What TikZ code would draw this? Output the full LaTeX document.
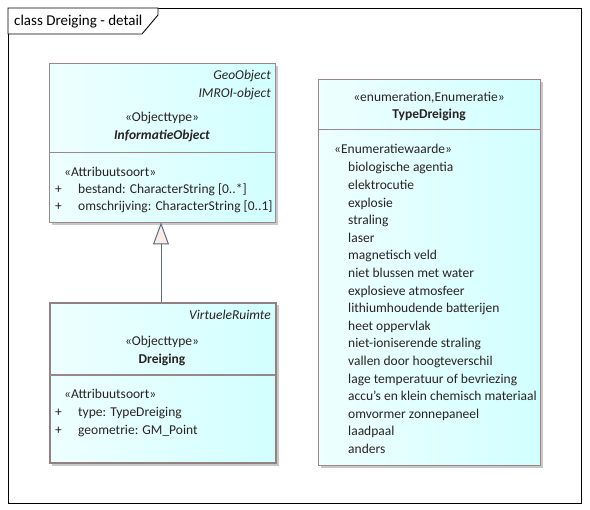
\documentclass[tikz,border=0pt]{standalone}
\usepackage{fontspec}
\setmainfont{Carlito}
\usetikzlibrary{arrows.meta}
\definecolor{boxline}{HTML}{9A8888}
\definecolor{boxfillL}{HTML}{EEFFFF}
\definecolor{boxfillR}{HTML}{D2FFFF}
\definecolor{txt}{HTML}{2A2222}
\definecolor{connline}{HTML}{5F6B80}
\definecolor{trifill}{HTML}{FBEDE6}
\definecolor{shadowc}{HTML}{C8C8C8}
\tikzset{
  x=1pt, y=-1pt,
  umlbox/.style={draw=boxline, line width=1pt, left color=boxfillL, right color=boxfillR, rectangle, anchor=north west, inner sep=0pt},
  tl/.style={anchor=base west, inner sep=0pt, text=txt, font=\fontsize{13.5}{15}\selectfont},
  tr/.style={anchor=base east, inner sep=0pt, text=txt, font=\fontsize{13.5}{15}\selectfont\itshape},
  tc/.style={anchor=base, inner sep=0pt, text=txt, font=\fontsize{13.5}{15}\selectfont},
  divider/.style={draw=boxline, line width=1pt},
}
\begin{document}
\begin{tikzpicture}
\useasboundingbox (0,0) rectangle (590,510);
\fill[white] (0,0) rectangle (590,510);
% frame
\draw[black, line width=0.9pt] (8,8) rectangle (581,503);
\draw[black, line width=0.9pt, fill=white] (8,8) -- (158,8) -- (158,15) -- (142,34) -- (8,34) -- cycle;
\node[anchor=base west, inner sep=0pt, font=\fontsize{15}{17}\selectfont] (title) at (14,26) {class Dreiging - detail};

% InformatieObject
\fill[shadowc] (52,66) rectangle (278,225);
\node[umlbox, minimum width=226pt, minimum height=159pt] (info) at (49,63) {};
\draw[divider] (49,153) -- (275,153);
\node[tr] (geo) at (271,80) {GeoObject};
\node[tr] (imroi) at (271,98) {IMROI-object};
\node[tc] (st1) at (162,122) {«Objecttype»};
\node[tc, font=\fontsize{13.5}{15}\selectfont\bfseries\itshape] (n1) at (162,140) {InformatieObject};
\node[tl] (a1) at (64,177) {«Attribuutsoort»};
\node[tl] (p1) at (55,194) {+};
\node[tl] (a2) at (78,194) {bestand: CharacterString [0..*]};
\node[tl] (p2) at (55,211) {+};
\node[tl] (a3) at (78,211) {omschrijving: CharacterString [0..1]};

% Dreiging
\fill[shadowc] (52,305) rectangle (279,466);
\node[umlbox, line width=2.4pt, draw=boxline!95!black, minimum width=226pt, minimum height=160pt] (dreig) at (49,302) {};
\draw[divider, line width=2pt] (49,375) -- (275,375);
\node[tr] (vr) at (271,320) {VirtueleRuimte};
\node[tc] (st2) at (162,346) {«Objecttype»};
\node[tc, font=\fontsize{13.5}{15}\selectfont\bfseries] (n2) at (162,364) {Dreiging};
\node[tl] (b1) at (64,399) {«Attribuutsoort»};
\node[tl] (q1) at (55,417) {+};
\node[tl] (b2) at (78,417) {type: TypeDreiging};
\node[tl] (q2) at (55,435) {+};
\node[tl] (b3) at (78,435) {geometrie: GM\_Point};

% generalization
\draw[connline, line width=1pt, -{Triangle[length=22pt, width=16pt, fill=trifill, line width=1pt]}] (dreig.north -| 161,0) -- (161,222.5) coordinate (tip);

% TypeDreiging
\fill[shadowc] (321,82) rectangle (543,468);
\node[umlbox, minimum width=222pt, minimum height=386pt] (enum) at (318,79) {};
\draw[divider] (318,130) -- (540,130);
\node[tc] (st3) at (429,102) {«enumeration,Enumeratie»};
\node[tc, font=\fontsize{13.5}{15}\selectfont\bfseries] (n3) at (429,119) {TypeDreiging};
\node[tl] (e0) at (334,154) {«Enumeratiewaarde»};
\foreach \t [count=\i from 0] in {biologische agentia, elektrocutie, explosie, straling, laser, magnetisch veld, niet blussen met water, explosieve atmosfeer, lithiumhoudende batterijen, heet oppervlak, niet-ioniserende straling, vallen door hoogteverschil, lage temperatuur of bevriezing, accu's en klein chemisch materiaal, omvormer zonnepaneel, laadpaal, anders}
  \node[tl] (e\i) at (348,{172+17.6*\i}) {\t};
\end{tikzpicture}
\end{document}
